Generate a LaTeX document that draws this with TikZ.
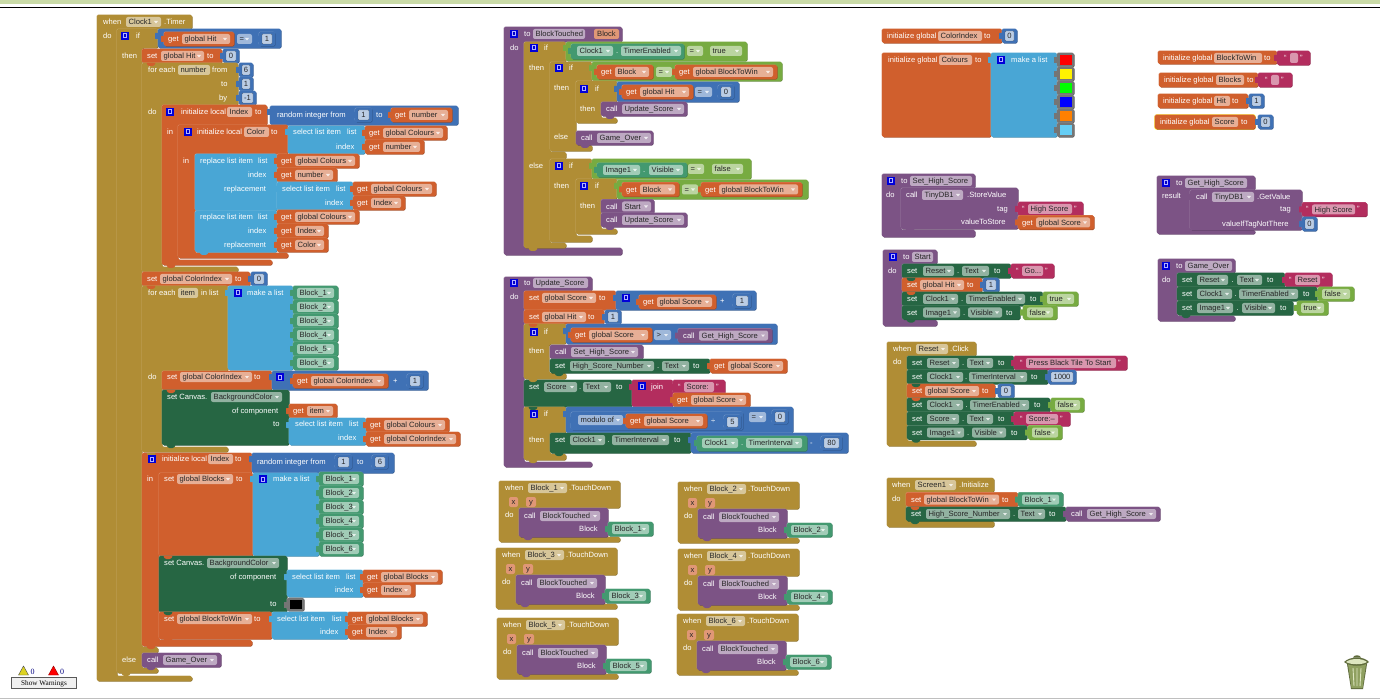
\documentclass[tikz,border=0pt]{standalone}
\usepackage{fontspec}
\setmainfont{Liberation Sans}
\newfontfamily\trm{Liberation Serif}
\definecolor{oli}{HTML}{B08D35}
\definecolor{org}{HTML}{D05F2D}
\definecolor{blu}{HTML}{3F71B5}
\definecolor{lbl}{HTML}{49A6D5}
\definecolor{pur}{HTML}{7C5385}
\definecolor{dgr}{HTML}{266643}
\definecolor{tea}{HTML}{439970}
\definecolor{lgc}{HTML}{77AB41}
\definecolor{mag}{HTML}{B32D5E}
\definecolor{swg}{HTML}{757575}
\definecolor{topg}{HTML}{CADBA8}
\definecolor{trd}{HTML}{5F6B3C}
\definecolor{trm}{HTML}{8FA060}
\definecolor{trl}{HTML}{DDE6C0}
\newcounter{nn}
\tikzset{
  lab/.style={anchor=base west,inner sep=0pt,text=white,font=\fontsize{7.6}{9}\selectfont},
  fldt/.style={anchor=base west,inner sep=0pt,text=black!85,font=\fontsize{7.6}{9}\selectfont},
  numt/.style={anchor=base,inner sep=0pt,text=black!85,font=\fontsize{7.6}{9}\selectfont}
}
% bevelled polygon
\newcommand\Pg[2]{%
  \path[rounded corners=1.5pt,fill=#1!80!black,shift={(.6,.6)}] #2;
  \path[rounded corners=1.5pt,fill=#1!75!white,shift={(-.4,-.4)}] #2;
  \path[rounded corners=1.5pt,fill=#1] #2;}
\newcommand\Bx[5]{\Pg{#1}{({#2},{#3}) rectangle ({#4},{#5})}}
\newcommand\Tb[3]{\path[fill=#1,rounded corners=.6pt] ({(#2)-3},{(#3)-3}) rectangle ({(#2)+1},{(#3)+3});}
\newcommand\Vn[3]{\path[fill=#1,rounded corners=1pt] ({(#2)+4},{#3}) -- ({(#2)+14},{#3}) -- ({(#2)+11.5},{(#3)+3}) -- ({(#2)+6.5},{(#3)+3}) -- cycle;}
\newcommand\Lb[3]{\stepcounter{nn}\node[lab] (n\arabic{nn}) at ({#1},{(#2)+2.7}) {#3};}
\newcommand\Fe[4]{\path[fill=white,fill opacity=.5,rounded corners=2pt] ({#1},{(#3)-5}) rectangle ({#2},{(#3)+5});
  \stepcounter{nn}\node[fldt] (n\arabic{nn}) at ({(#1)+2.5},{(#3)+2.7}) {#4};}
\newcommand\Fd[4]{\Fe{#1}{#2}{#3}{#4}
  \path[fill=white,fill opacity=.75] ({(#2)-7},{(#3)-1}) -- ({(#2)-3},{(#3)-1}) -- ({(#2)-5},{(#3)+1.5}) -- cycle;}
\newcommand\Mt[2]{\path[fill=blue!85!black] ({(#1)-4},{(#2)-4}) rectangle ({(#1)+4},{(#2)+4});
  \path[fill=white!70!blue] ({(#1)-1.7},{(#2)-2.5}) rectangle ({(#1)+1.7},{(#2)+2.5});
  \path[fill=blue!80!black] ({(#1)-.7},{(#2)-1.5}) rectangle ({(#1)+.7},{(#2)+1.5});}
\newcommand\Gt[4]{\Bx{org}{#1}{(#3)-7}{#2}{(#3)+7}\Tb{org}{#1}{#3}\Lb{(#1)+4}{#3}{get}\Fd{(#1)+18}{(#2)-4}{#3}{#4}}
\newcommand\Nm[4]{\Bx{blu}{#1}{(#3)-7}{#2}{(#3)+7}\Tb{blu}{#1}{#3}
  \path[fill=white,fill opacity=.65,rounded corners=1pt,draw=black,draw opacity=.35,line width=.4pt] ({(#1)+3},{(#3)-5}) rectangle ({(#2)-3},{(#3)+5});
  \stepcounter{nn}\node[numt] (n\arabic{nn}) at ({((#1)+(#2))/2},{(#3)+2.7}) {#4};}
\newcommand\Cp[4]{\Bx{tea}{#1}{(#3)-7}{#2}{(#3)+7}\Tb{tea}{#1}{#3}\Fd{(#1)+4}{(#2)-4}{#3}{#4}}
\newcommand\Lc[4]{\Bx{lgc}{#1}{(#3)-7}{#2}{(#3)+7}\Tb{lgc}{#1}{#3}\Fd{(#1)+4}{(#2)-4}{#3}{#4}}
% string: x1 x2 fx1 fx2 y text
\newcommand\St[6]{\Bx{mag}{#1}{(#5)-7}{#2}{(#5)+7}\Tb{mag}{#1}{#5}
  \Lb{(#3)-6}{(#5)-.5}{\char"201C}\Lb{(#4)+2}{(#5)-.5}{\char"201D}\Fe{#3}{#4}{#5}{#6}}
% call block: x1 x2 y fx1 fx2 text
\newcommand\Cl[6]{\Bx{pur}{#1}{(#3)-7}{#2}{(#3)+7}\Lb{(#1)+5}{#3}{call}\Fd{#4}{#5}{#3}{#6}}
% set statement: colour x1 x2 y
\newcommand\Sg[4]{\Bx{#1}{#2}{(#4)-7}{#3}{(#4)+7}\Lb{(#2)+5}{#4}{set}}
% component property: y fx1 fx2 name px1 px2 prop tox
\newcommand\PP[8]{\Fd{#2}{#3}{#1}{#4}\Lb{((#3)+(#5))/2-1}{#1}{.}\Fd{#5}{#6}{#1}{#7}\Lb{#8}{#1}{to}}
\newcommand\Sw[5]{\Bx{swg}{#1}{#2}{#3}{#4}\path[fill=#5] ({(#1)+3},{(#2)+2}) rectangle ({(#3)-2},{(#4)-2});\path[fill=swg] ({(#1)-3},{((#2)+(#4))/2-3}) rectangle ({#1},{((#2)+(#4))/2+3});}
% TouchDown event
\newcommand\TD[3]{\begin{scope}[shift={(#1,#2)}]
  \Pg{oli}{(499,481)--(620,481)--(620,508)--(519,508)--(519,537)--(620,537)--(620,542)--(499,542)--cycle}
  \Lb{505}{488}{when}\Fd{528}{567}{488}{Block\_#3}\Lb{569}{488}{.TouchDown}
  \path[fill=org!65!white,rounded corners=2pt] (509,497) rectangle (518,507);\path[fill=org!65!white,rounded corners=2pt] (526,497) rectangle (536,507);
  \stepcounter{nn}\node[numt] (n\arabic{nn}) at (513.5,504.7) {x};
  \stepcounter{nn}\node[numt] (n\arabic{nn}) at (531,504.7) {y};
  \Lb{505}{515}{do}
  \Bx{pur}{519}{508}{608}{537}\Vn{pur}{519}{537}
  \Lb{524}{516}{call}\Fd{540}{600}{516}{BlockTouched}\Lb{579}{529}{Block}
  \Cp{608}{653}{529}{Block\_#3}
\end{scope}}
\begin{document}
\begin{tikzpicture}[x=1pt,y=-1pt]
\useasboundingbox (0,0) rectangle (1380,700);
\path[fill=white] (0,0) rectangle (1380,700);
\path[fill=topg] (0,0) rectangle (1380,4);
\path[fill=black] (0,7) rectangle (1380,8);
\path[fill=black!25] (0,698) rectangle (1380,699);

%% ---------- Clock1.Timer
\Pg{oli}{(97,15)--(192,15)--(192,29)--(117,29)--(117,676)--(192,676)--(192,681)--(97,681)--cycle}
\Lb{103}{22}{when}\Fd{126}{161}{22}{Clock1}\Lb{164}{22}{.Timer}\Lb{103}{36}{do}
\Pg{oli}{(117,29)--(158,29)--(158,48)--(142,48)--(142,647)--(158,647)--(158,653)--(142,653)--(142,668)--(158,668)--(158,673)--(117,673)--cycle}
\Mt{125}{36}\Lb{136}{36}{if}\Lb{122}{56}{then}\Lb{122}{660}{else}
\Bx{blu}{158}{29}{281}{48}\Tb{blu}{158}{36}
\Gt{164}{234}{39}{global Hit}\Fd{237}{252}{39}{=}\Nm{259}{275}{39}{1}
\Sg{org}{142}{222}{56}\Fd{161}{204}{56}{global Hit}\Lb{207}{56}{to}\Nm{223}{239}{56}{0}
\Pg{oli}{(142,63)--(238,63)--(238,105)--(162,105)--(162,267)--(238,267)--(238,272)--(142,272)--cycle}
\Vn{org}{142}{63}
\Lb{148}{70}{for each}\Fe{178}{210}{70}{number}\Lb{212}{70}{from}
\Nm{239}{253}{70}{6}\Lb{221}{84}{to}\Nm{239}{253}{84}{1}\Lb{219}{98}{by}\Nm{239}{256}{98}{-1}
\Lb{148}{112}{do}
\Pg{org}{(162,105)--(267,105)--(267,125)--(178,125)--(178,260)--(272,260)--(272,265)--(162,265)--cycle}
\Mt{170}{112}\Lb{181}{112}{initialize local}\Fe{227}{252}{112}{Index}\Lb{255}{112}{to}
\Bx{blu}{270}{106}{458}{125}\Tb{blu}{270}{112}
\Lb{277}{115}{random integer from}\Nm{355}{372}{115}{1}\Lb{376}{115}{to}\Gt{391}{452}{115}{number}
\Lb{167}{132}{in}
\Pg{org}{(178,125)--(288,125)--(288,154)--(195,154)--(195,253)--(288,253)--(288,258)--(178,258)--cycle}
\Mt{188}{132}\Lb{197}{132}{initialize local}\Fe{244}{269}{132}{Color}\Lb{271}{132}{to}
\Bx{lbl}{288}{126}{365}{154}\Tb{lbl}{288}{132}
\Lb{293}{132}{select list item}\Lb{347}{132}{list}\Lb{336}{147}{index}
\Gt{365}{447}{133}{global Colours}\Gt{365}{424}{147}{number}
\Lb{183}{161}{in}
\Bx{lbl}{195}{154}{277}{211}
\Lb{200}{161}{replace list item}\Lb{258}{161}{list}\Lb{248}{175}{index}\Lb{224}{189}{replacement}
\Gt{277}{359}{161}{global Colours}\Gt{277}{337}{175}{number}
\Bx{lbl}{277}{182}{353}{210}\Tb{lbl}{277}{189}
\Lb{282}{189}{select list item}\Lb{336}{189}{list}\Lb{325}{203}{index}
\Gt{353}{436}{189}{global Colours}\Gt{353}{405}{203}{Index}
\Bx{lbl}{195}{211}{277}{252}\Vn{lbl}{195}{252}\Vn{lbl}{198}{211}
\Lb{200}{217}{replace list item}\Lb{258}{217}{list}\Lb{248}{231}{index}\Lb{224}{245}{replacement}
\Gt{277}{359}{217}{global Colours}\Gt{277}{328}{231}{Index}\Gt{277}{328}{245}{Color}
\Vn{org}{162}{265}

\Sg{org}{142}{250}{279}\Fd{160}{232}{279}{global ColorIndex}\Lb{235}{279}{to}\Nm{251}{267}{279}{0}
\Pg{oli}{(142,286)--(228,286)--(228,371)--(162,371)--(162,447)--(228,447)--(228,452)--(142,452)--cycle}
\Vn{org}{142}{286}
\Lb{148}{293}{for each}\Fe{178}{198}{293}{item}\Lb{201}{293}{in list}
\Bx{lbl}{228}{286}{293}{370}\Tb{lbl}{228}{293}\Mt{238}{293}\Lb{247}{293}{make a list}
\Cp{293}{338}{293}{Block\_1}\Cp{293}{338}{307}{Block\_2}\Cp{293}{338}{321}{Block\_3}\Cp{293}{338}{335}{Block\_4}\Cp{293}{338}{349}{Block\_5}\Cp{293}{338}{363}{Block\_6}
\Lb{148}{377}{do}
\Bx{org}{162}{371}{272}{390}\Lb{167}{377}{set}\Fd{180}{252}{377}{global ColorIndex}\Lb{254}{377}{to}
\Bx{blu}{272}{371}{428}{390}\Tb{blu}{272}{377}\Mt{280}{377}
\Gt{293}{388}{381}{global ColorIndex}\Lb{393}{381}{+}\Nm{407}{423}{381}{1}
\Bx{dgr}{162}{390}{289}{445}\Vn{org}{162}{390}\Vn{dgr}{162}{445}
\Lb{167}{397}{set Canvas.}\Fd{211}{282}{397}{BackgroundColor}\Lb{232}{411}{of component}\Lb{273}{424}{to}
\Gt{289}{337}{411}{item}
\Bx{lbl}{289}{418}{366}{445}\Tb{lbl}{289}{425}
\Lb{295}{424}{select list item}\Lb{349}{424}{list}\Lb{338}{438}{index}
\Gt{366}{449}{425}{global Colours}\Gt{366}{460}{439}{global ColorIndex}

\Pg{org}{(142,453)--(252,453)--(252,473)--(159,473)--(159,640)--(252,640)--(252,646)--(142,646)--cycle}
\Vn{oli}{142}{453}
\Mt{152}{459}\Lb{162}{459}{initialize local}\Fe{208}{233}{459}{Index}\Lb{235}{459}{to}
\Bx{blu}{252}{453}{394}{473}\Tb{blu}{252}{459}
\Lb{257}{462}{random integer from}\Nm{335}{352}{462}{1}\Lb{357}{462}{to}\Nm{372}{388}{462}{6}
\Lb{147}{479}{in}
\Bx{org}{159}{473}{253}{556}\Lb{164}{479}{set}\Fd{177}{233}{479}{global Blocks}\Lb{236}{479}{to}
\Bx{lbl}{253}{473}{319}{556}\Tb{lbl}{253}{479}\Mt{263}{479}\Lb{273}{479}{make a list}
\Cp{319}{363}{479}{Block\_1}\Cp{319}{363}{493}{Block\_2}\Cp{319}{363}{507}{Block\_3}\Cp{319}{363}{521}{Block\_4}\Cp{319}{363}{535}{Block\_5}\Cp{319}{363}{549}{Block\_6}
\Bx{dgr}{159}{556}{287}{612}\Vn{org}{159}{556}
\Lb{164}{563}{set Canvas.}\Fd{207}{279}{563}{BackgroundColor}\Lb{230}{577}{of component}\Lb{270}{604}{to}
\Bx{lbl}{287}{570}{363}{597}\Tb{lbl}{287}{577}
\Lb{292}{577}{select list item}\Lb{346}{577}{list}\Lb{335}{590}{index}
\Gt{363}{442}{577}{global Blocks}\Gt{363}{415}{590}{Index}
\Sw{287}{598}{304}{611}{black}
\Bx{org}{159}{612}{272}{639}\Vn{dgr}{159}{612}\Vn{org}{159}{639}
\Lb{164}{619}{set}\Fd{177}{252}{619}{global BlockToWin}\Lb{254}{619}{to}
\Bx{lbl}{272}{612}{348}{639}\Tb{lbl}{272}{619}
\Lb{277}{619}{select list item}\Lb{332}{619}{list}\Lb{320}{632}{index}
\Gt{348}{427}{619}{global Blocks}\Gt{348}{401}{632}{Index}
\Cl{142}{221}{660}{163}{217}{Game\_Over}\Vn{pur}{142}{667}\Vn{oli}{117}{673}\Vn{org}{142}{646}

%% ---------- BlockTouched
\Pg{pur}{(504,27)--(622,27)--(622,42)--(524,42)--(524,248)--(622,248)--(622,255)--(504,255)--cycle}
\Mt{514}{34}\Lb{524}{34}{to}\Fe{533}{585}{34}{BlockTouched}
\path[fill=org!65!white,rounded corners=2pt] (594,29) rectangle (619,39);
\stepcounter{nn}\node[fldt] (n\arabic{nn}) at (597,36.7) {Block};
\Lb{510}{48}{do}
\Pg{oli}{(524,42)--(566,42)--(566,62)--(550,62)--(550,152)--(566,152)--(566,159)--(550,159)--(550,243)--(566,243)--(566,248)--(524,248)--cycle}
\Mt{534}{48}\Lb{544}{48}{if}\Lb{529}{68}{then}\Lb{529}{166}{else}
\Bx{lgc}{566}{42}{747}{61}\Tb{lgc}{566}{48}
\Bx{tea}{571}{44}{684}{59}\Tb{tea}{571}{51}
\Fd{577}{613}{51}{Clock1}\Lb{616}{51}{.}\Fd{621}{681}{51}{TimerEnabled}
\Fd{687}{703}{51}{=}\Tb{lgc}{708}{51}\Fd{710}{742}{51}{true}
\Pg{oli}{(550,62)--(592,62)--(592,81)--(576,81)--(576,145)--(592,145)--(592,151)--(550,151)--cycle}
\Mt{559}{68}\Lb{569}{68}{if}\Lb{554}{88}{then}\Lb{554}{137}{else}
\Bx{lgc}{592}{62}{782}{81}\Tb{lgc}{592}{68}
\Gt{597}{653}{72}{Block}\Fd{656}{672}{72}{=}\Gt{675}{777}{72}{global BlockToWin}
\Pg{oli}{(576,81)--(617,81)--(617,102)--(601,102)--(601,118)--(617,118)--(617,123)--(576,123)--cycle}
\Mt{584}{89}\Lb{595}{89}{if}\Lb{580}{109}{then}
\Bx{blu}{617}{82}{739}{102}\Tb{blu}{617}{89}
\Gt{622}{693}{92}{global Hit}\Fd{695}{712}{92}{=}\Nm{718}{734}{92}{0}
\Cl{601}{687}{109}{622}{684}{Update\_Score}\Vn{pur}{601}{116}
\Cl{576}{653}{138}{597}{651}{Game\_Over}\Vn{pur}{576}{145}
\Pg{oli}{(550,159)--(592,159)--(592,179)--(576,179)--(576,236)--(592,236)--(592,242)--(550,242)--cycle}
\Mt{559}{166}\Lb{569}{166}{if}\Lb{554}{186}{then}
\Bx{lgc}{592}{159}{751}{179}\Tb{lgc}{592}{166}
\Bx{tea}{597}{163}{687}{177}\Tb{tea}{597}{170}
\Fd{603}{640}{170}{Image1}\Lb{643}{170}{.}\Fd{649}{683}{170}{Visible}
\Fd{688}{704}{169}{=}\Tb{lgc}{710}{169}\Fd{712}{743}{169}{false}
\Pg{oli}{(576,179)--(617,179)--(617,199)--(601,199)--(601,229)--(617,229)--(617,234)--(576,234)--cycle}
\Mt{584}{186}\Lb{595}{186}{if}\Lb{580}{206}{then}
\Bx{lgc}{617}{180}{808}{199}\Tb{lgc}{617}{186}
\Gt{622}{679}{189.5}{Block}\Fd{682}{698}{189.5}{=}\Gt{701}{802}{189.5}{global BlockToWin}
\Cl{601}{654}{206.5}{622}{651}{Start}\Vn{pur}{601}{213.5}
\Cl{601}{687}{220}{622}{684}{Update\_Score}\Vn{pur}{601}{227}
\Vn{oli}{524}{248}

%% ---------- Update_Score
\Pg{pur}{(504,277)--(592,277)--(592,291)--(524,291)--(524,462)--(592,462)--(592,467)--(504,467)--cycle}
\Mt{514}{283}\Lb{524}{283}{to}\Fe{533}{588}{283}{Update\_Score}\Lb{510}{297}{do}
\Bx{org}{524}{291}{616}{310}\Lb{529}{298}{set}\Fd{542}{596}{298}{global Score}\Lb{599}{298}{to}
\Bx{blu}{616}{291}{756}{310}\Tb{blu}{616}{298}\Mt{626}{298}
\Gt{639}{716}{302}{global Score}\Lb{720}{301}{+}\Nm{733}{751}{301}{1}
\Sg{org}{524}{604}{317}\Fd{542}{586}{317}{global Hit}\Lb{588}{317}{to}\Nm{605}{621}{317}{1}\Vn{org}{524}{310}
\Pg{oli}{(524,324)--(566,324)--(566,344)--(549,344)--(549,373)--(566,373)--(566,379)--(524,379)--cycle}
\Vn{org}{524}{324}
\Mt{534}{332}\Lb{544}{332}{if}\Lb{529}{351}{then}
\Bx{blu}{566}{324}{777}{344}\Tb{blu}{566}{331}
\Gt{571}{652}{335}{global Score}\Fd{654}{671}{335}{>}
\Cl{678}{772}{335.5}{699}{768}{Get\_High\_Score}\Tb{pur}{678}{335.5}
\Cl{550}{643}{352}{571}{638}{Set\_High\_Score}\Vn{pur}{550}{359}
\Sg{dgr}{550}{710}{366}\PP{366}{570}{654}{High\_Score\_Number}{662}{689}{Text}{693}
\Gt{710}{787}{366}{global Score}\Vn{dgr}{550}{373}
\Bx{dgr}{524}{380}{632}{407}\Vn{oli}{524}{379}
\Lb{529}{387}{set}\PP{387}{544}{577}{Score}{583}{611}{Text}{616}
\Bx{mag}{632}{380}{673}{407}\Tb{mag}{632}{387}\Mt{642}{386}\Lb{651}{387}{join}
\St{673}{725}{684}{714}{387}{Score:}
\Gt{673}{750}{400}{global Score}
\Pg{oli}{(524,407)--(566,407)--(566,433)--(550,433)--(550,454)--(566,454)--(566,460)--(524,460)--cycle}
\Vn{dgr}{524}{407}
\Mt{534}{414}\Lb{544}{414}{if}\Lb{529}{440}{then}
\Bx{blu}{566}{407}{793}{433}\Tb{blu}{566}{414}
\Bx{blu}{571}{412}{743}{430}\Tb{blu}{571}{420}
\Fd{578}{623}{420}{modulo of}\Gt{626}{707}{421}{global Score}\Lb{711}{421}{\char"00F7}\Nm{724}{741}{422}{5}
\Fd{749}{766}{417}{=}\Nm{772}{788}{417}{0}
\Bx{dgr}{550}{433}{691}{453}\Lb{555}{440}{set}\PP{440}{570}{605}{Clock1}{612}{669}{TimerInterval}{674}
\Vn{dgr}{550}{453}
\Bx{blu}{691}{433}{848}{453}\Tb{blu}{691}{440}
\Bx{tea}{697}{436}{807}{451}\Tb{tea}{697}{443}
\Fd{702}{738}{443}{Clock1}\Lb{741}{443}{.}\Fd{746}{802}{443}{TimerInterval}
\Lb{810}{443}{-}\Nm{821}{842}{443}{80}
\Vn{oli}{524}{460}

%% ---------- TouchDown events
\TD{0}{0}{1}\TD{179}{1}{2}\TD{-3}{67}{3}\TD{179}{68}{4}\TD{-2}{137}{5}\TD{178}{133}{6}

%% ---------- globals
\Pg{org}{(882,29)--(1002,29)--(1002,43)--(882,43)--cycle}
\Lb{887}{36}{initialize global}\Fe{938}{982}{36}{ColorIndex}\Lb{984}{36}{to}\Nm{1002}{1017}{36}{0}
\Bx{org}{882}{53}{991}{137}\Lb{888}{60}{initialize global}\Fe{939}{972}{60}{Colours}\Lb{975}{60}{to}
\Bx{lbl}{991}{53}{1057}{137}\Tb{lbl}{991}{60}\Mt{1001}{60}\Lb{1011}{60}{make a list}
\Sw{1057}{53}{1074}{67}{red}\Sw{1057}{67}{1074}{81}{yellow}\Sw{1057}{81}{1074}{95}{green}
\Sw{1057}{95}{1074}{109}{blue}\Sw{1057}{109}{1074}{123}{orange}\Sw{1057}{123}{1074}{137}{cyan!60!white}
\Bx{org}{1158}{51}{1277}{64}\Lb{1163}{58}{initialize global}\Fe{1214}{1262}{58}{BlockToWin}\Lb{1264}{58}{to}
\St{1277}{1310}{1290}{1298}{58}{}
\Bx{org}{1159}{73}{1258}{87}\Lb{1164}{80}{initialize global}\Fe{1216}{1244}{80}{Blocks}\Lb{1247}{80}{to}
\St{1258}{1292}{1271}{1279}{80}{}
\Bx{org}{1158}{94}{1248}{108}\Lb{1163}{101}{initialize global}\Fe{1214}{1230}{101}{Hit}\Lb{1232}{101}{to}\Nm{1249}{1264}{101}{1}
\path[draw=yellow!85!orange,line width=1.4pt,rounded corners=2pt] (1155,115) rectangle (1255,129);
\Bx{org}{1155}{115}{1255}{129}\Lb{1160}{122}{initialize global}\Fe{1212}{1238}{122}{Score}\Lb{1241}{122}{to}\Nm{1258}{1273}{122}{0}

%% ---------- Set_High_Score
\Pg{pur}{(882,174)--(975,174)--(975,188)--(901,188)--(901,230)--(975,230)--(975,237)--(882,237)--cycle}
\Mt{891}{181}\Lb{901}{181}{to}\Fe{910}{972}{181}{Set\_High\_Score}\Lb{886}{195}{do}
\Bx{pur}{901}{188}{1018}{229}\Vn{pur}{901}{229}
\Lb{906}{195}{call}\Fd{922}{963}{195}{TinyDB1}\Lb{967}{195}{.StoreValue}\Lb{997}{209}{tag}\Lb{961}{222}{valueToStore}
\St{1018}{1083}{1028}{1072}{209}{High Score}\Gt{1018}{1094}{222.5}{global Score}
%% ---------- Get_High_Score
\Pg{pur}{(1157,176)--(1255,176)--(1255,190)--(1190,190)--(1190,230)--(1255,230)--(1255,234)--(1157,234)--cycle}
\Mt{1166}{183}\Lb{1176}{183}{to}\Fe{1185}{1247}{183}{Get\_High\_Score}\Lb{1162}{196}{result}
\Bx{pur}{1190}{190}{1302}{230}\Tb{pur}{1190}{197}
\Lb{1196}{197}{call}\Fd{1212}{1254}{197}{TinyDB1}\Lb{1257}{197}{.GetValue}\Lb{1280}{209}{tag}\Lb{1222}{224}{valueIfTagNotThere}
\St{1302}{1367}{1312}{1355}{209.5}{High Score}\Nm{1302}{1317}{224}{0}
%% ---------- Start
\Pg{pur}{(883,250)--(937,250)--(937,264)--(902,264)--(902,320)--(937,320)--(937,326)--(883,326)--cycle}
\Mt{893}{257}\Lb{903}{257}{to}\Fe{912}{933}{257}{Start}\Lb{888}{271}{do}
\Sg{dgr}{902}{1011}{271}\PP{271}{923}{954}{Reset}{962}{989}{Text}{994}\St{1011}{1054}{1022}{1043}{271}{Go...}
\Sg{org}{902}{982}{285}\Fd{920}{964}{285}{global Hit}\Lb{967}{285}{to}\Nm{983}{999}{285}{1}\Vn{dgr}{902}{278}
\Sg{dgr}{902}{1043}{299}\PP{299}{923}{958}{Clock1}{966}{1025}{TimerEnabled}{1030}\Lc{1043}{1078}{299}{true}\Vn{org}{902}{292}
\Sg{dgr}{902}{1020}{312.5}\PP{312.5}{923}{960}{Image1}{968}{1002}{Visible}{1006}\Lc{1023}{1057}{312.5}{false}\Vn{dgr}{902}{306}\Vn{dgr}{902}{319.5}
%% ---------- Game_Over
\Pg{pur}{(1158,259)--(1235,259)--(1235,273)--(1177,273)--(1177,316)--(1235,316)--(1235,321)--(1158,321)--cycle}
\Mt{1166}{266}\Lb{1176}{266}{to}\Fe{1185}{1232}{266}{Game\_Over}\Lb{1162}{280}{do}
\Sg{dgr}{1177}{1285}{280}\PP{280}{1197}{1228}{Reset}{1237}{1262}{Text}{1267}\St{1285}{1332}{1295}{1320}{280}{Reset}
\Sg{dgr}{1177}{1317}{294}\PP{294}{1197}{1232}{Clock1}{1239}{1298}{TimerEnabled}{1303}\Lc{1318}{1354}{294}{false}\Vn{dgr}{1177}{287}
\Sg{dgr}{1177}{1293}{308}\PP{308}{1197}{1233}{Image1}{1242}{1275}{Visible}{1280}\Lc{1297}{1328}{308}{true}\Vn{dgr}{1177}{301}\Vn{dgr}{1177}{315}
%% ---------- Reset.Click
\Pg{oli}{(887,342)--(976,342)--(976,356)--(907,356)--(907,441)--(976,441)--(976,446)--(887,446)--cycle}
\Lb{893}{349}{when}\Fd{916}{948}{349}{Reset}\Lb{950}{349}{.Click}\Lb{893}{362}{do}
\Sg{dgr}{907}{1014}{363}\PP{363}{927}{959}{Reset}{967}{993}{Text}{998}\St{1014}{1127}{1026}{1116}{363}{Press Black Tile To Start}
\Sg{dgr}{907}{1048}{377}\PP{377}{927}{963}{Clock1}{969}{1027}{TimerInterval}{1031}\Nm{1048}{1076}{377}{1000}\Vn{dgr}{907}{370}
\Sg{org}{907}{995}{391}\Fd{925}{979}{391}{global Score}\Lb{982}{391}{to}\Nm{998}{1014}{391}{0}\Vn{dgr}{907}{384}
\Sg{dgr}{907}{1050}{405}\PP{405}{927}{963}{Clock1}{970}{1029}{TimerEnabled}{1034}\Lc{1051}{1084}{405}{false}\Vn{org}{907}{398}
\Sg{dgr}{907}{1014}{419}\PP{419}{927}{959}{Score}{967}{993}{Text}{998}\St{1014}{1070}{1026}{1058}{419}{Score:--}\Vn{dgr}{907}{412}
\Sg{dgr}{907}{1027}{432.5}\PP{432.5}{927}{964}{Image1}{972}{1006}{Visible}{1011}\Lc{1028}{1062}{432.5}{false}\Vn{dgr}{907}{426}\Vn{dgr}{907}{439.5}
%% ---------- Screen1.Initialize
\Pg{oli}{(887,478)--(994,478)--(994,492)--(906,492)--(906,521)--(994,521)--(994,527)--(887,527)--cycle}
\Lb{892}{485}{when}\Fd{915}{956}{485}{Screen1}\Lb{959}{485}{.Initialize}\Lb{892}{499}{do}
\Sg{org}{906}{1018}{499.5}\Fd{924}{999}{499.5}{global BlockToWin}\Lb{1002}{499.5}{to}\Cp{1018}{1063}{499.5}{Block\_1}
\Sg{dgr}{906}{1066}{514}\PP{514}{926}{1010}{High\_Score\_Number}{1018}{1045}{Text}{1049}\Vn{org}{906}{507}\Vn{dgr}{906}{521}
\Cl{1066}{1160}{514}{1087}{1156}{Get\_High\_Score}\Tb{pur}{1066}{514}

%% ---------- warnings
\path[fill=yellow!85!black,draw=black!70,line width=.4pt] (18.5,675) -- (23.5,666) -- (28.5,675) -- cycle;
\stepcounter{nn}\node[anchor=base west,inner sep=0pt,text=blue!50!black,font=\trm\fontsize{8}{9}\selectfont] (n\arabic{nn}) at (30.5,674.5) {0};
\path[fill=red,draw=red!60!black,line width=.4pt] (48.5,675) -- (53.5,666) -- (58.5,675) -- cycle;
\stepcounter{nn}\node[anchor=base west,inner sep=0pt,text=blue!50!black,font=\trm\fontsize{8}{9}\selectfont] (n\arabic{nn}) at (60,674.5) {0};
\path[fill=black!6,draw=black!65,line width=.7pt] (11.5,677) rectangle (76,688);
\stepcounter{nn}\node[anchor=base,inner sep=0pt,text=black,font=\trm\fontsize{7.2}{9}\selectfont] (n\arabic{nn}) at (44,685) {Show Warnings};

%% ---------- trash can
\path[fill=trd] (1347,664) -- (1367,664) -- (1363,689) -- (1351,689) -- cycle;
\path[fill=trm] (1348,664) -- (1366,664) -- (1362.5,688) -- (1351.5,688) -- cycle;
\path[draw=trl,line width=.9pt] (1353,668) -- (1354,686) (1357,668) -- (1357,686) (1361,668) -- (1360,686);
\path[fill=trd] (1344,662) .. controls (1350,656) and (1364,656) .. (1369,662) .. controls (1364,667) and (1350,667) .. (1344,662) -- cycle;
\path[fill=trl] (1346,662) .. controls (1351,658) and (1362,658) .. (1367,662) .. controls (1362,665) and (1351,665) .. (1346,662) -- cycle;
\path[fill=trd] (1353,657.5) .. controls (1354,654.5) and (1360,654.5) .. (1361,657.5) -- cycle;
\end{tikzpicture}
\end{document}
